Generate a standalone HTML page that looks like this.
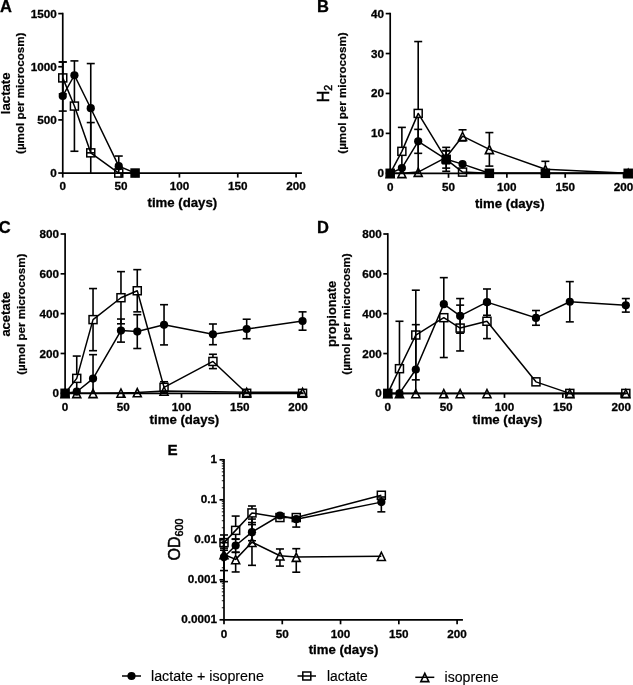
<!DOCTYPE html>
<html lang="en"><head><meta charset="utf-8"><title>Figure: lactate, H2, acetate, propionate and OD600 over time</title>
<style>html,body{margin:0;padding:0;background:#fff}svg{display:block}text{font-family:"Liberation Sans",sans-serif;fill:#000}</style>
</head><body>
<svg width="633" height="685" viewBox="0 0 633 685">
<rect width="633" height="685" fill="#fff"/>
<g id="panelA">
<text transform="translate(0 11.8)" font-size="16.5" font-weight="bold" text-anchor="start" stroke="#000" stroke-width="0.3" >A</text>
<line x1="62.75" y1="12.75" x2="62.75" y2="173.9" stroke="#000" stroke-width="1.7" />
<line x1="61.9" y1="173.05" x2="301.92" y2="173.05" stroke="#000" stroke-width="1.7" />
<line x1="58.25" y1="173.05" x2="62.75" y2="173.05" stroke="#000" stroke-width="1.7" />
<text transform="translate(56.65 177.09)" font-size="11.7" font-weight="bold" text-anchor="end" stroke="#000" stroke-width="0.3" >0</text>
<line x1="58.25" y1="119.9" x2="62.75" y2="119.9" stroke="#000" stroke-width="1.7" />
<text transform="translate(56.65 123.94)" font-size="11.7" font-weight="bold" text-anchor="end" stroke="#000" stroke-width="0.3" >500</text>
<line x1="58.25" y1="66.75" x2="62.75" y2="66.75" stroke="#000" stroke-width="1.7" />
<text transform="translate(56.65 70.79)" font-size="11.7" font-weight="bold" text-anchor="end" stroke="#000" stroke-width="0.3" >1000</text>
<line x1="58.25" y1="13.6" x2="62.75" y2="13.6" stroke="#000" stroke-width="1.7" />
<text transform="translate(56.65 17.64)" font-size="11.7" font-weight="bold" text-anchor="end" stroke="#000" stroke-width="0.3" >1500</text>
<line x1="62.75" y1="173.05" x2="62.75" y2="177.55" stroke="#000" stroke-width="1.7" />
<text transform="translate(62.75 190.35)" font-size="11.7" font-weight="bold" text-anchor="middle" stroke="#000" stroke-width="0.3" >0</text>
<line x1="121.09" y1="173.05" x2="121.09" y2="177.55" stroke="#000" stroke-width="1.7" />
<text transform="translate(121.09 190.35)" font-size="11.7" font-weight="bold" text-anchor="middle" stroke="#000" stroke-width="0.3" >50</text>
<line x1="179.42" y1="173.05" x2="179.42" y2="177.55" stroke="#000" stroke-width="1.7" />
<text transform="translate(179.42 190.35)" font-size="11.7" font-weight="bold" text-anchor="middle" stroke="#000" stroke-width="0.3" >100</text>
<line x1="237.76" y1="173.05" x2="237.76" y2="177.55" stroke="#000" stroke-width="1.7" />
<text transform="translate(237.76 190.35)" font-size="11.7" font-weight="bold" text-anchor="middle" stroke="#000" stroke-width="0.3" >150</text>
<line x1="296.09" y1="173.05" x2="296.09" y2="177.55" stroke="#000" stroke-width="1.7" />
<text transform="translate(296.09 190.35)" font-size="11.7" font-weight="bold" text-anchor="middle" stroke="#000" stroke-width="0.3" >200</text>
<text transform="translate(182.34 207.35)" font-size="13.2" font-weight="bold" text-anchor="middle" stroke="#000" stroke-width="0.3" >time (days)</text>
<text transform="translate(9.8 93.3) rotate(-90)" font-size="13.2" font-weight="bold" text-anchor="middle" stroke="#000" stroke-width="0.2" >lactate</text>
<text transform="translate(23.9 93.3) rotate(-90)" font-size="11.6" font-weight="bold" text-anchor="middle" stroke="#000" stroke-width="0.2" >(µmol per microcosm)</text>
<line x1="62.75" y1="61.97" x2="62.75" y2="95.98" stroke="#000" stroke-width="1.6" />
<line x1="58.75" y1="61.97" x2="66.75" y2="61.97" stroke="#000" stroke-width="1.6" />
<line x1="62.75" y1="95.98" x2="62.75" y2="111.08" stroke="#000" stroke-width="1.6" />
<line x1="58.75" y1="111.08" x2="66.75" y2="111.08" stroke="#000" stroke-width="1.6" />
<line x1="90.75" y1="63.56" x2="90.75" y2="108.21" stroke="#000" stroke-width="1.6" />
<line x1="86.75" y1="63.56" x2="94.75" y2="63.56" stroke="#000" stroke-width="1.6" />
<line x1="90.75" y1="108.21" x2="90.75" y2="152.85" stroke="#000" stroke-width="1.6" />
<line x1="86.75" y1="152.85" x2="94.75" y2="152.85" stroke="#000" stroke-width="1.6" />
<line x1="118.75" y1="156.04" x2="118.75" y2="166.14" stroke="#000" stroke-width="1.6" />
<line x1="114.75" y1="156.04" x2="122.75" y2="156.04" stroke="#000" stroke-width="1.6" />
<line x1="118.75" y1="166.14" x2="118.75" y2="173.05" stroke="#000" stroke-width="1.6" />
<polyline points="62.75,95.98 74.42,75.25 90.75,108.21 118.75,166.14 135.09,173.05" fill="none" stroke="#000" stroke-width="1.5" stroke-linejoin="round"/>
<circle cx="62.75" cy="95.98" r="4.1" fill="#000"/>
<circle cx="74.42" cy="75.25" r="4.1" fill="#000"/>
<circle cx="90.75" cy="108.21" r="4.1" fill="#000"/>
<circle cx="118.75" cy="166.14" r="4.1" fill="#000"/>
<circle cx="135.09" cy="173.05" r="4.1" fill="#000"/>
<line x1="62.75" y1="61.97" x2="62.75" y2="73.91" stroke="#000" stroke-width="1.6" />
<line x1="58.75" y1="61.97" x2="66.75" y2="61.97" stroke="#000" stroke-width="1.6" />
<line x1="62.75" y1="81.91" x2="62.75" y2="93.86" stroke="#000" stroke-width="1.6" />
<line x1="58.75" y1="93.86" x2="66.75" y2="93.86" stroke="#000" stroke-width="1.6" />
<line x1="74.42" y1="60.9" x2="74.42" y2="102.08" stroke="#000" stroke-width="1.6" />
<line x1="70.42" y1="60.9" x2="78.42" y2="60.9" stroke="#000" stroke-width="1.6" />
<line x1="74.42" y1="110.08" x2="74.42" y2="151.26" stroke="#000" stroke-width="1.6" />
<line x1="70.42" y1="151.26" x2="78.42" y2="151.26" stroke="#000" stroke-width="1.6" />
<line x1="90.75" y1="122.56" x2="90.75" y2="148.85" stroke="#000" stroke-width="1.6" />
<line x1="86.75" y1="122.56" x2="94.75" y2="122.56" stroke="#000" stroke-width="1.6" />
<line x1="90.75" y1="156.85" x2="90.75" y2="173.05" stroke="#000" stroke-width="1.6" />
<polyline points="62.75,77.91 74.42,106.08 90.75,152.85 118.75,173.05 135.09,173.05" fill="none" stroke="#000" stroke-width="1.5" stroke-linejoin="round"/>
<rect x="58.75" y="73.91" width="8" height="8" fill="none" stroke="#000" stroke-width="1.5"/>
<rect x="70.42" y="102.08" width="8" height="8" fill="none" stroke="#000" stroke-width="1.5"/>
<rect x="86.75" y="148.85" width="8" height="8" fill="none" stroke="#000" stroke-width="1.5"/>
<rect x="114.75" y="169.05" width="8" height="8" fill="none" stroke="#000" stroke-width="1.5"/>
<rect x="131.09" y="169.05" width="8" height="8" fill="#000" stroke="#000" stroke-width="1.5"/>
</g>
<g id="panelB">
<text transform="translate(317.1 11.7)" font-size="16.5" font-weight="bold" text-anchor="start" stroke="#000" stroke-width="0.3" >B</text>
<line x1="390.2" y1="12.75" x2="390.2" y2="174.15" stroke="#000" stroke-width="1.7" />
<line x1="389.35" y1="173.3" x2="629.37" y2="173.3" stroke="#000" stroke-width="1.7" />
<line x1="385.7" y1="173.3" x2="390.2" y2="173.3" stroke="#000" stroke-width="1.7" />
<text transform="translate(384.1 177.34)" font-size="11.7" font-weight="bold" text-anchor="end" stroke="#000" stroke-width="0.3" >0</text>
<line x1="385.7" y1="133.38" x2="390.2" y2="133.38" stroke="#000" stroke-width="1.7" />
<text transform="translate(384.1 137.41)" font-size="11.7" font-weight="bold" text-anchor="end" stroke="#000" stroke-width="0.3" >10</text>
<line x1="385.7" y1="93.45" x2="390.2" y2="93.45" stroke="#000" stroke-width="1.7" />
<text transform="translate(384.1 97.49)" font-size="11.7" font-weight="bold" text-anchor="end" stroke="#000" stroke-width="0.3" >20</text>
<line x1="385.7" y1="53.53" x2="390.2" y2="53.53" stroke="#000" stroke-width="1.7" />
<text transform="translate(384.1 57.56)" font-size="11.7" font-weight="bold" text-anchor="end" stroke="#000" stroke-width="0.3" >30</text>
<line x1="385.7" y1="13.6" x2="390.2" y2="13.6" stroke="#000" stroke-width="1.7" />
<text transform="translate(384.1 17.64)" font-size="11.7" font-weight="bold" text-anchor="end" stroke="#000" stroke-width="0.3" >40</text>
<line x1="390.2" y1="173.3" x2="390.2" y2="177.8" stroke="#000" stroke-width="1.7" />
<text transform="translate(390.2 190.9)" font-size="11.7" font-weight="bold" text-anchor="middle" stroke="#000" stroke-width="0.3" >0</text>
<line x1="448.53" y1="173.3" x2="448.53" y2="177.8" stroke="#000" stroke-width="1.7" />
<text transform="translate(448.53 190.9)" font-size="11.7" font-weight="bold" text-anchor="middle" stroke="#000" stroke-width="0.3" >50</text>
<line x1="506.87" y1="173.3" x2="506.87" y2="177.8" stroke="#000" stroke-width="1.7" />
<text transform="translate(506.87 190.9)" font-size="11.7" font-weight="bold" text-anchor="middle" stroke="#000" stroke-width="0.3" >100</text>
<line x1="565.21" y1="173.3" x2="565.21" y2="177.8" stroke="#000" stroke-width="1.7" />
<text transform="translate(565.21 190.9)" font-size="11.7" font-weight="bold" text-anchor="middle" stroke="#000" stroke-width="0.3" >150</text>
<line x1="623.54" y1="173.3" x2="623.54" y2="177.8" stroke="#000" stroke-width="1.7" />
<text transform="translate(623.54 190.9)" font-size="11.7" font-weight="bold" text-anchor="middle" stroke="#000" stroke-width="0.3" >200</text>
<text transform="translate(509.79 207.7)" font-size="13.2" font-weight="bold" text-anchor="middle" stroke="#000" stroke-width="0.3" >time (days)</text>
<text transform="translate(328.6 93.5) rotate(-90)" font-size="16" font-weight="normal" stroke="#000" stroke-width="0.5" text-anchor="middle">H<tspan font-size="10.5" dy="3.6">2</tspan></text>
<text transform="translate(346.3 93) rotate(-90)" font-size="11.6" font-weight="bold" text-anchor="middle" stroke="#000" stroke-width="0.2" >(µmol per microcosm)</text>
<line x1="418.2" y1="129.38" x2="418.2" y2="141.36" stroke="#000" stroke-width="1.6" />
<line x1="414.2" y1="129.38" x2="422.2" y2="129.38" stroke="#000" stroke-width="1.6" />
<line x1="418.2" y1="141.36" x2="418.2" y2="153.34" stroke="#000" stroke-width="1.6" />
<line x1="414.2" y1="153.34" x2="422.2" y2="153.34" stroke="#000" stroke-width="1.6" />
<line x1="446.2" y1="150.54" x2="446.2" y2="159.33" stroke="#000" stroke-width="1.6" />
<line x1="442.2" y1="150.54" x2="450.2" y2="150.54" stroke="#000" stroke-width="1.6" />
<line x1="446.2" y1="159.33" x2="446.2" y2="168.11" stroke="#000" stroke-width="1.6" />
<line x1="442.2" y1="168.11" x2="450.2" y2="168.11" stroke="#000" stroke-width="1.6" />
<polyline points="390.2,173.3 401.87,168.11 418.2,141.36 446.2,159.33 462.54,164.12 489.37,173.3 545.37,173.3 628.21,173.3" fill="none" stroke="#000" stroke-width="1.5" stroke-linejoin="round"/>
<circle cx="390.2" cy="173.3" r="4.1" fill="#000"/>
<circle cx="401.87" cy="168.11" r="4.1" fill="#000"/>
<circle cx="418.2" cy="141.36" r="4.1" fill="#000"/>
<circle cx="446.2" cy="159.33" r="4.1" fill="#000"/>
<circle cx="462.54" cy="164.12" r="4.1" fill="#000"/>
<circle cx="489.37" cy="173.3" r="4.1" fill="#000"/>
<circle cx="545.37" cy="173.3" r="4.1" fill="#000"/>
<circle cx="628.21" cy="173.3" r="4.1" fill="#000"/>
<line x1="401.87" y1="127.39" x2="401.87" y2="147.34" stroke="#000" stroke-width="1.6" />
<line x1="397.87" y1="127.39" x2="405.87" y2="127.39" stroke="#000" stroke-width="1.6" />
<line x1="401.87" y1="155.34" x2="401.87" y2="173.3" stroke="#000" stroke-width="1.6" />
<line x1="418.2" y1="41.55" x2="418.2" y2="109.41" stroke="#000" stroke-width="1.6" />
<line x1="414.2" y1="41.55" x2="422.2" y2="41.55" stroke="#000" stroke-width="1.6" />
<line x1="418.2" y1="117.41" x2="418.2" y2="173.3" stroke="#000" stroke-width="1.6" />
<line x1="446.2" y1="147.35" x2="446.2" y2="155.33" stroke="#000" stroke-width="1.6" />
<line x1="442.2" y1="147.35" x2="450.2" y2="147.35" stroke="#000" stroke-width="1.6" />
<line x1="446.2" y1="163.33" x2="446.2" y2="171.3" stroke="#000" stroke-width="1.6" />
<line x1="442.2" y1="171.3" x2="450.2" y2="171.3" stroke="#000" stroke-width="1.6" />
<polyline points="390.2,173.3 401.87,151.34 418.2,113.41 446.2,159.33 462.54,172.1 489.37,173.3 545.37,173.3 628.21,173.3" fill="none" stroke="#000" stroke-width="1.5" stroke-linejoin="round"/>
<rect x="386.2" y="169.3" width="8" height="8" fill="#000" stroke="#000" stroke-width="1.5"/>
<rect x="397.87" y="147.34" width="8" height="8" fill="none" stroke="#000" stroke-width="1.5"/>
<rect x="414.2" y="109.41" width="8" height="8" fill="none" stroke="#000" stroke-width="1.5"/>
<rect x="442.2" y="155.33" width="8" height="8" fill="#000" stroke="#000" stroke-width="1.5"/>
<rect x="458.54" y="168.1" width="8" height="8" fill="none" stroke="#000" stroke-width="1.5"/>
<rect x="485.37" y="169.3" width="8" height="8" fill="#000" stroke="#000" stroke-width="1.5"/>
<rect x="541.37" y="169.3" width="8" height="8" fill="#000" stroke="#000" stroke-width="1.5"/>
<rect x="624.21" y="169.3" width="8" height="8" fill="#000" stroke="#000" stroke-width="1.5"/>
<line x1="446.2" y1="150.94" x2="446.2" y2="152.63" stroke="#000" stroke-width="1.6" />
<line x1="442.2" y1="150.94" x2="450.2" y2="150.94" stroke="#000" stroke-width="1.6" />
<line x1="446.2" y1="161.63" x2="446.2" y2="163.72" stroke="#000" stroke-width="1.6" />
<line x1="442.2" y1="163.72" x2="450.2" y2="163.72" stroke="#000" stroke-width="1.6" />
<line x1="462.54" y1="129.78" x2="462.54" y2="131.47" stroke="#000" stroke-width="1.6" />
<line x1="458.54" y1="129.78" x2="466.54" y2="129.78" stroke="#000" stroke-width="1.6" />
<line x1="462.54" y1="140.47" x2="462.54" y2="140.96" stroke="#000" stroke-width="1.6" />
<line x1="458.54" y1="140.96" x2="466.54" y2="140.96" stroke="#000" stroke-width="1.6" />
<line x1="489.37" y1="132.58" x2="489.37" y2="144.65" stroke="#000" stroke-width="1.6" />
<line x1="485.37" y1="132.58" x2="493.37" y2="132.58" stroke="#000" stroke-width="1.6" />
<line x1="489.37" y1="153.65" x2="489.37" y2="166.11" stroke="#000" stroke-width="1.6" />
<line x1="485.37" y1="166.11" x2="493.37" y2="166.11" stroke="#000" stroke-width="1.6" />
<line x1="545.37" y1="161.32" x2="545.37" y2="164.61" stroke="#000" stroke-width="1.6" />
<line x1="541.37" y1="161.32" x2="549.37" y2="161.32" stroke="#000" stroke-width="1.6" />
<polyline points="390.2,173.3 401.87,173.3 418.2,172.1 446.2,157.33 462.54,136.17 489.37,149.34 545.37,169.31 628.21,173.3" fill="none" stroke="#000" stroke-width="1.5" stroke-linejoin="round"/>
<path d="M390.2 169.4 L394.2 177.6 L386.2 177.6 Z" fill="none" stroke="#000" stroke-width="1.6" stroke-linejoin="miter"/>
<path d="M401.87 169.4 L405.87 177.6 L397.87 177.6 Z" fill="none" stroke="#000" stroke-width="1.6" stroke-linejoin="miter"/>
<path d="M418.2 168.2 L422.2 176.4 L414.2 176.4 Z" fill="none" stroke="#000" stroke-width="1.6" stroke-linejoin="miter"/>
<path d="M446.2 153.43 L450.2 161.63 L442.2 161.63 Z" fill="none" stroke="#000" stroke-width="1.6" stroke-linejoin="miter"/>
<path d="M462.54 132.27 L466.54 140.47 L458.54 140.47 Z" fill="none" stroke="#000" stroke-width="1.6" stroke-linejoin="miter"/>
<path d="M489.37 145.44 L493.37 153.65 L485.37 153.65 Z" fill="none" stroke="#000" stroke-width="1.6" stroke-linejoin="miter"/>
<path d="M545.37 165.41 L549.37 173.61 L541.37 173.61 Z" fill="none" stroke="#000" stroke-width="1.6" stroke-linejoin="miter"/>
<path d="M628.21 169.4 L632.21 177.6 L624.21 177.6 Z" fill="none" stroke="#000" stroke-width="1.6" stroke-linejoin="miter"/>
</g>
<g id="panelC">
<text transform="translate(-1.2 232.5)" font-size="16.5" font-weight="bold" text-anchor="start" stroke="#000" stroke-width="0.3" >C</text>
<line x1="65.1" y1="233.15" x2="65.1" y2="394.15" stroke="#000" stroke-width="1.7" />
<line x1="64.25" y1="393.3" x2="303.72" y2="393.3" stroke="#000" stroke-width="1.7" />
<line x1="60.6" y1="393.3" x2="65.1" y2="393.3" stroke="#000" stroke-width="1.7" />
<text transform="translate(59 397.34)" font-size="11.7" font-weight="bold" text-anchor="end" stroke="#000" stroke-width="0.3" >0</text>
<line x1="60.6" y1="353.48" x2="65.1" y2="353.48" stroke="#000" stroke-width="1.7" />
<text transform="translate(59 357.51)" font-size="11.7" font-weight="bold" text-anchor="end" stroke="#000" stroke-width="0.3" >200</text>
<line x1="60.6" y1="313.65" x2="65.1" y2="313.65" stroke="#000" stroke-width="1.7" />
<text transform="translate(59 317.69)" font-size="11.7" font-weight="bold" text-anchor="end" stroke="#000" stroke-width="0.3" >400</text>
<line x1="60.6" y1="273.82" x2="65.1" y2="273.82" stroke="#000" stroke-width="1.7" />
<text transform="translate(59 277.86)" font-size="11.7" font-weight="bold" text-anchor="end" stroke="#000" stroke-width="0.3" >600</text>
<line x1="60.6" y1="234" x2="65.1" y2="234" stroke="#000" stroke-width="1.7" />
<text transform="translate(59 238.04)" font-size="11.7" font-weight="bold" text-anchor="end" stroke="#000" stroke-width="0.3" >800</text>
<line x1="65.1" y1="393.3" x2="65.1" y2="397.8" stroke="#000" stroke-width="1.7" />
<text transform="translate(65.1 411)" font-size="11.7" font-weight="bold" text-anchor="middle" stroke="#000" stroke-width="0.3" >0</text>
<line x1="123.3" y1="393.3" x2="123.3" y2="397.8" stroke="#000" stroke-width="1.7" />
<text transform="translate(123.3 411)" font-size="11.7" font-weight="bold" text-anchor="middle" stroke="#000" stroke-width="0.3" >50</text>
<line x1="181.5" y1="393.3" x2="181.5" y2="397.8" stroke="#000" stroke-width="1.7" />
<text transform="translate(181.5 411)" font-size="11.7" font-weight="bold" text-anchor="middle" stroke="#000" stroke-width="0.3" >100</text>
<line x1="239.7" y1="393.3" x2="239.7" y2="397.8" stroke="#000" stroke-width="1.7" />
<text transform="translate(239.7 411)" font-size="11.7" font-weight="bold" text-anchor="middle" stroke="#000" stroke-width="0.3" >150</text>
<line x1="297.9" y1="393.3" x2="297.9" y2="397.8" stroke="#000" stroke-width="1.7" />
<text transform="translate(297.9 411)" font-size="11.7" font-weight="bold" text-anchor="middle" stroke="#000" stroke-width="0.3" >200</text>
<text transform="translate(184.41 423.7)" font-size="13.2" font-weight="bold" text-anchor="middle" stroke="#000" stroke-width="0.3" >time (days)</text>
<text transform="translate(10.1 314.2) rotate(-90)" font-size="13.0" font-weight="bold" text-anchor="middle" stroke="#000" stroke-width="0.2" >acetate</text>
<text transform="translate(24.5 314.2) rotate(-90)" font-size="11.6" font-weight="bold" text-anchor="middle" stroke="#000" stroke-width="0.2" >(µmol per microcosm)</text>
<line x1="93.04" y1="354.67" x2="93.04" y2="378.56" stroke="#000" stroke-width="1.6" />
<line x1="89.04" y1="354.67" x2="97.04" y2="354.67" stroke="#000" stroke-width="1.6" />
<line x1="93.04" y1="378.56" x2="93.04" y2="393.3" stroke="#000" stroke-width="1.6" />
<line x1="120.97" y1="319.03" x2="120.97" y2="330.58" stroke="#000" stroke-width="1.6" />
<line x1="116.97" y1="319.03" x2="124.97" y2="319.03" stroke="#000" stroke-width="1.6" />
<line x1="120.97" y1="330.58" x2="120.97" y2="342.12" stroke="#000" stroke-width="1.6" />
<line x1="116.97" y1="342.12" x2="124.97" y2="342.12" stroke="#000" stroke-width="1.6" />
<line x1="137.27" y1="314.65" x2="137.27" y2="331.57" stroke="#000" stroke-width="1.6" />
<line x1="133.27" y1="314.65" x2="141.27" y2="314.65" stroke="#000" stroke-width="1.6" />
<line x1="137.27" y1="331.57" x2="137.27" y2="348.5" stroke="#000" stroke-width="1.6" />
<line x1="133.27" y1="348.5" x2="141.27" y2="348.5" stroke="#000" stroke-width="1.6" />
<line x1="164.04" y1="304.69" x2="164.04" y2="324.8" stroke="#000" stroke-width="1.6" />
<line x1="160.04" y1="304.69" x2="168.04" y2="304.69" stroke="#000" stroke-width="1.6" />
<line x1="164.04" y1="324.8" x2="164.04" y2="344.91" stroke="#000" stroke-width="1.6" />
<line x1="160.04" y1="344.91" x2="168.04" y2="344.91" stroke="#000" stroke-width="1.6" />
<line x1="212.93" y1="324" x2="212.93" y2="334.36" stroke="#000" stroke-width="1.6" />
<line x1="208.93" y1="324" x2="216.93" y2="324" stroke="#000" stroke-width="1.6" />
<line x1="212.93" y1="334.36" x2="212.93" y2="344.71" stroke="#000" stroke-width="1.6" />
<line x1="208.93" y1="344.71" x2="216.93" y2="344.71" stroke="#000" stroke-width="1.6" />
<line x1="246.68" y1="319.23" x2="246.68" y2="328.98" stroke="#000" stroke-width="1.6" />
<line x1="242.68" y1="319.23" x2="250.68" y2="319.23" stroke="#000" stroke-width="1.6" />
<line x1="246.68" y1="328.98" x2="246.68" y2="338.74" stroke="#000" stroke-width="1.6" />
<line x1="242.68" y1="338.74" x2="250.68" y2="338.74" stroke="#000" stroke-width="1.6" />
<line x1="302.56" y1="311.86" x2="302.56" y2="321.02" stroke="#000" stroke-width="1.6" />
<line x1="298.56" y1="311.86" x2="306.56" y2="311.86" stroke="#000" stroke-width="1.6" />
<line x1="302.56" y1="321.02" x2="302.56" y2="330.18" stroke="#000" stroke-width="1.6" />
<line x1="298.56" y1="330.18" x2="306.56" y2="330.18" stroke="#000" stroke-width="1.6" />
<polyline points="65.1,393.3 76.74,391.71 93.04,378.56 120.97,330.58 137.27,331.57 164.04,324.8 212.93,334.36 246.68,328.98 302.56,321.02" fill="none" stroke="#000" stroke-width="1.5" stroke-linejoin="round"/>
<circle cx="65.1" cy="393.3" r="4.1" fill="#000"/>
<circle cx="76.74" cy="391.71" r="4.1" fill="#000"/>
<circle cx="93.04" cy="378.56" r="4.1" fill="#000"/>
<circle cx="120.97" cy="330.58" r="4.1" fill="#000"/>
<circle cx="137.27" cy="331.57" r="4.1" fill="#000"/>
<circle cx="164.04" cy="324.8" r="4.1" fill="#000"/>
<circle cx="212.93" cy="334.36" r="4.1" fill="#000"/>
<circle cx="246.68" cy="328.98" r="4.1" fill="#000"/>
<circle cx="302.56" cy="321.02" r="4.1" fill="#000"/>
<line x1="76.74" y1="356.06" x2="76.74" y2="374.37" stroke="#000" stroke-width="1.6" />
<line x1="72.74" y1="356.06" x2="80.74" y2="356.06" stroke="#000" stroke-width="1.6" />
<line x1="76.74" y1="382.37" x2="76.74" y2="393.3" stroke="#000" stroke-width="1.6" />
<line x1="93.04" y1="288.56" x2="93.04" y2="315.62" stroke="#000" stroke-width="1.6" />
<line x1="89.04" y1="288.56" x2="97.04" y2="288.56" stroke="#000" stroke-width="1.6" />
<line x1="93.04" y1="323.62" x2="93.04" y2="350.69" stroke="#000" stroke-width="1.6" />
<line x1="89.04" y1="350.69" x2="97.04" y2="350.69" stroke="#000" stroke-width="1.6" />
<line x1="120.97" y1="271.63" x2="120.97" y2="293.72" stroke="#000" stroke-width="1.6" />
<line x1="116.97" y1="271.63" x2="124.97" y2="271.63" stroke="#000" stroke-width="1.6" />
<line x1="120.97" y1="301.72" x2="120.97" y2="323.81" stroke="#000" stroke-width="1.6" />
<line x1="116.97" y1="323.81" x2="124.97" y2="323.81" stroke="#000" stroke-width="1.6" />
<line x1="137.27" y1="269.64" x2="137.27" y2="286.75" stroke="#000" stroke-width="1.6" />
<line x1="133.27" y1="269.64" x2="141.27" y2="269.64" stroke="#000" stroke-width="1.6" />
<line x1="137.27" y1="294.75" x2="137.27" y2="311.86" stroke="#000" stroke-width="1.6" />
<line x1="133.27" y1="311.86" x2="141.27" y2="311.86" stroke="#000" stroke-width="1.6" />
<line x1="164.04" y1="381.75" x2="164.04" y2="383.33" stroke="#000" stroke-width="1.6" />
<line x1="160.04" y1="381.75" x2="168.04" y2="381.75" stroke="#000" stroke-width="1.6" />
<line x1="164.04" y1="391.33" x2="164.04" y2="392.9" stroke="#000" stroke-width="1.6" />
<line x1="160.04" y1="392.9" x2="168.04" y2="392.9" stroke="#000" stroke-width="1.6" />
<line x1="212.93" y1="354.27" x2="212.93" y2="357.44" stroke="#000" stroke-width="1.6" />
<line x1="208.93" y1="354.27" x2="216.93" y2="354.27" stroke="#000" stroke-width="1.6" />
<line x1="212.93" y1="365.44" x2="212.93" y2="368.61" stroke="#000" stroke-width="1.6" />
<line x1="208.93" y1="368.61" x2="216.93" y2="368.61" stroke="#000" stroke-width="1.6" />
<polyline points="65.1,393.3 76.74,378.37 93.04,319.62 120.97,297.72 137.27,290.75 164.04,387.33 212.93,361.44 246.68,393.3 302.56,393.3" fill="none" stroke="#000" stroke-width="1.5" stroke-linejoin="round"/>
<rect x="61.1" y="389.3" width="8" height="8" fill="#000" stroke="#000" stroke-width="1.5"/>
<rect x="72.74" y="374.37" width="8" height="8" fill="none" stroke="#000" stroke-width="1.5"/>
<rect x="89.04" y="315.62" width="8" height="8" fill="none" stroke="#000" stroke-width="1.5"/>
<rect x="116.97" y="293.72" width="8" height="8" fill="none" stroke="#000" stroke-width="1.5"/>
<rect x="133.27" y="286.75" width="8" height="8" fill="none" stroke="#000" stroke-width="1.5"/>
<rect x="160.04" y="383.33" width="8" height="8" fill="none" stroke="#000" stroke-width="1.5"/>
<rect x="208.93" y="357.44" width="8" height="8" fill="none" stroke="#000" stroke-width="1.5"/>
<rect x="242.68" y="389.3" width="8" height="8" fill="none" stroke="#000" stroke-width="1.5"/>
<rect x="298.56" y="389.3" width="8" height="8" fill="none" stroke="#000" stroke-width="1.5"/>
<polyline points="65.1,393.3 76.74,393.3 93.04,393.3 120.97,392.9 137.27,392.5 164.04,390.91 246.68,392.3 302.56,392.3" fill="none" stroke="#000" stroke-width="1.5" stroke-linejoin="round"/>
<path d="M65.1 389.4 L69.1 397.6 L61.1 397.6 Z" fill="none" stroke="#000" stroke-width="1.6" stroke-linejoin="miter"/>
<path d="M76.74 389.4 L80.74 397.6 L72.74 397.6 Z" fill="none" stroke="#000" stroke-width="1.6" stroke-linejoin="miter"/>
<path d="M93.04 389.4 L97.04 397.6 L89.04 397.6 Z" fill="none" stroke="#000" stroke-width="1.6" stroke-linejoin="miter"/>
<path d="M120.97 389 L124.97 397.2 L116.97 397.2 Z" fill="none" stroke="#000" stroke-width="1.6" stroke-linejoin="miter"/>
<path d="M137.27 388.6 L141.27 396.8 L133.27 396.8 Z" fill="none" stroke="#000" stroke-width="1.6" stroke-linejoin="miter"/>
<path d="M164.04 387.01 L168.04 395.21 L160.04 395.21 Z" fill="none" stroke="#000" stroke-width="1.6" stroke-linejoin="miter"/>
<path d="M246.68 388.4 L250.68 396.6 L242.68 396.6 Z" fill="none" stroke="#000" stroke-width="1.6" stroke-linejoin="miter"/>
<path d="M302.56 388.4 L306.56 396.6 L298.56 396.6 Z" fill="none" stroke="#000" stroke-width="1.6" stroke-linejoin="miter"/>
</g>
<g id="panelD">
<text transform="translate(317.1 232.5)" font-size="16.5" font-weight="bold" text-anchor="start" stroke="#000" stroke-width="0.3" >D</text>
<line x1="387.8" y1="233.15" x2="387.8" y2="394.25" stroke="#000" stroke-width="1.7" />
<line x1="386.95" y1="393.4" x2="626.97" y2="393.4" stroke="#000" stroke-width="1.7" />
<line x1="383.3" y1="393.4" x2="387.8" y2="393.4" stroke="#000" stroke-width="1.7" />
<text transform="translate(381.7 397.44)" font-size="11.7" font-weight="bold" text-anchor="end" stroke="#000" stroke-width="0.3" >0</text>
<line x1="383.3" y1="353.55" x2="387.8" y2="353.55" stroke="#000" stroke-width="1.7" />
<text transform="translate(381.7 357.59)" font-size="11.7" font-weight="bold" text-anchor="end" stroke="#000" stroke-width="0.3" >200</text>
<line x1="383.3" y1="313.7" x2="387.8" y2="313.7" stroke="#000" stroke-width="1.7" />
<text transform="translate(381.7 317.74)" font-size="11.7" font-weight="bold" text-anchor="end" stroke="#000" stroke-width="0.3" >400</text>
<line x1="383.3" y1="273.85" x2="387.8" y2="273.85" stroke="#000" stroke-width="1.7" />
<text transform="translate(381.7 277.89)" font-size="11.7" font-weight="bold" text-anchor="end" stroke="#000" stroke-width="0.3" >600</text>
<line x1="383.3" y1="234" x2="387.8" y2="234" stroke="#000" stroke-width="1.7" />
<text transform="translate(381.7 238.04)" font-size="11.7" font-weight="bold" text-anchor="end" stroke="#000" stroke-width="0.3" >800</text>
<line x1="387.8" y1="393.4" x2="387.8" y2="397.9" stroke="#000" stroke-width="1.7" />
<text transform="translate(387.8 411)" font-size="11.7" font-weight="bold" text-anchor="middle" stroke="#000" stroke-width="0.3" >0</text>
<line x1="446.13" y1="393.4" x2="446.13" y2="397.9" stroke="#000" stroke-width="1.7" />
<text transform="translate(446.13 411)" font-size="11.7" font-weight="bold" text-anchor="middle" stroke="#000" stroke-width="0.3" >50</text>
<line x1="504.47" y1="393.4" x2="504.47" y2="397.9" stroke="#000" stroke-width="1.7" />
<text transform="translate(504.47 411)" font-size="11.7" font-weight="bold" text-anchor="middle" stroke="#000" stroke-width="0.3" >100</text>
<line x1="562.81" y1="393.4" x2="562.81" y2="397.9" stroke="#000" stroke-width="1.7" />
<text transform="translate(562.81 411)" font-size="11.7" font-weight="bold" text-anchor="middle" stroke="#000" stroke-width="0.3" >150</text>
<line x1="621.14" y1="393.4" x2="621.14" y2="397.9" stroke="#000" stroke-width="1.7" />
<text transform="translate(621.14 411)" font-size="11.7" font-weight="bold" text-anchor="middle" stroke="#000" stroke-width="0.3" >200</text>
<text transform="translate(507.39 423.8)" font-size="13.2" font-weight="bold" text-anchor="middle" stroke="#000" stroke-width="0.3" >time (days)</text>
<text transform="translate(335.7 314) rotate(-90)" font-size="12.8" font-weight="bold" text-anchor="middle" stroke="#000" stroke-width="0.2" >propionate</text>
<text transform="translate(349.9 314) rotate(-90)" font-size="11.6" font-weight="bold" text-anchor="middle" stroke="#000" stroke-width="0.2" >(µmol per microcosm)</text>
<line x1="415.8" y1="324.66" x2="415.8" y2="369.49" stroke="#000" stroke-width="1.6" />
<line x1="411.8" y1="324.66" x2="419.8" y2="324.66" stroke="#000" stroke-width="1.6" />
<line x1="415.8" y1="369.49" x2="415.8" y2="393.4" stroke="#000" stroke-width="1.6" />
<line x1="443.8" y1="277.64" x2="443.8" y2="304.14" stroke="#000" stroke-width="1.6" />
<line x1="439.8" y1="277.64" x2="447.8" y2="277.64" stroke="#000" stroke-width="1.6" />
<line x1="460.14" y1="298.56" x2="460.14" y2="315.89" stroke="#000" stroke-width="1.6" />
<line x1="456.14" y1="298.56" x2="464.14" y2="298.56" stroke="#000" stroke-width="1.6" />
<line x1="460.14" y1="315.89" x2="460.14" y2="333.23" stroke="#000" stroke-width="1.6" />
<line x1="456.14" y1="333.23" x2="464.14" y2="333.23" stroke="#000" stroke-width="1.6" />
<line x1="486.97" y1="288.99" x2="486.97" y2="302.14" stroke="#000" stroke-width="1.6" />
<line x1="482.97" y1="288.99" x2="490.97" y2="288.99" stroke="#000" stroke-width="1.6" />
<line x1="486.97" y1="302.14" x2="486.97" y2="315.29" stroke="#000" stroke-width="1.6" />
<line x1="482.97" y1="315.29" x2="490.97" y2="315.29" stroke="#000" stroke-width="1.6" />
<line x1="535.97" y1="310.51" x2="535.97" y2="317.88" stroke="#000" stroke-width="1.6" />
<line x1="531.97" y1="310.51" x2="539.97" y2="310.51" stroke="#000" stroke-width="1.6" />
<line x1="535.97" y1="317.88" x2="535.97" y2="325.26" stroke="#000" stroke-width="1.6" />
<line x1="531.97" y1="325.26" x2="539.97" y2="325.26" stroke="#000" stroke-width="1.6" />
<line x1="569.81" y1="281.62" x2="569.81" y2="301.75" stroke="#000" stroke-width="1.6" />
<line x1="565.81" y1="281.62" x2="573.81" y2="281.62" stroke="#000" stroke-width="1.6" />
<line x1="569.81" y1="301.75" x2="569.81" y2="321.87" stroke="#000" stroke-width="1.6" />
<line x1="565.81" y1="321.87" x2="573.81" y2="321.87" stroke="#000" stroke-width="1.6" />
<line x1="625.81" y1="298.56" x2="625.81" y2="305.33" stroke="#000" stroke-width="1.6" />
<line x1="621.81" y1="298.56" x2="629.81" y2="298.56" stroke="#000" stroke-width="1.6" />
<line x1="625.81" y1="305.33" x2="625.81" y2="312.11" stroke="#000" stroke-width="1.6" />
<line x1="621.81" y1="312.11" x2="629.81" y2="312.11" stroke="#000" stroke-width="1.6" />
<polyline points="387.8,393.4 399.47,393.4 415.8,369.49 443.8,304.14 460.14,315.89 486.97,302.14 535.97,317.88 569.81,301.75 625.81,305.33" fill="none" stroke="#000" stroke-width="1.5" stroke-linejoin="round"/>
<circle cx="387.8" cy="393.4" r="4.1" fill="#000"/>
<circle cx="399.47" cy="393.4" r="4.1" fill="#000"/>
<circle cx="415.8" cy="369.49" r="4.1" fill="#000"/>
<circle cx="443.8" cy="304.14" r="4.1" fill="#000"/>
<circle cx="460.14" cy="315.89" r="4.1" fill="#000"/>
<circle cx="486.97" cy="302.14" r="4.1" fill="#000"/>
<circle cx="535.97" cy="317.88" r="4.1" fill="#000"/>
<circle cx="569.81" cy="301.75" r="4.1" fill="#000"/>
<circle cx="625.81" cy="305.33" r="4.1" fill="#000"/>
<line x1="399.47" y1="321.27" x2="399.47" y2="364.69" stroke="#000" stroke-width="1.6" />
<line x1="395.47" y1="321.27" x2="403.47" y2="321.27" stroke="#000" stroke-width="1.6" />
<line x1="399.47" y1="372.69" x2="399.47" y2="393.4" stroke="#000" stroke-width="1.6" />
<line x1="415.8" y1="290.19" x2="415.8" y2="331.02" stroke="#000" stroke-width="1.6" />
<line x1="411.8" y1="290.19" x2="419.8" y2="290.19" stroke="#000" stroke-width="1.6" />
<line x1="415.8" y1="339.02" x2="415.8" y2="379.85" stroke="#000" stroke-width="1.6" />
<line x1="411.8" y1="379.85" x2="419.8" y2="379.85" stroke="#000" stroke-width="1.6" />
<line x1="443.8" y1="321.69" x2="443.8" y2="357.53" stroke="#000" stroke-width="1.6" />
<line x1="439.8" y1="357.53" x2="447.8" y2="357.53" stroke="#000" stroke-width="1.6" />
<line x1="460.14" y1="305.13" x2="460.14" y2="324.05" stroke="#000" stroke-width="1.6" />
<line x1="456.14" y1="305.13" x2="464.14" y2="305.13" stroke="#000" stroke-width="1.6" />
<line x1="460.14" y1="332.05" x2="460.14" y2="350.96" stroke="#000" stroke-width="1.6" />
<line x1="456.14" y1="350.96" x2="464.14" y2="350.96" stroke="#000" stroke-width="1.6" />
<line x1="486.97" y1="303.94" x2="486.97" y2="317.27" stroke="#000" stroke-width="1.6" />
<line x1="482.97" y1="303.94" x2="490.97" y2="303.94" stroke="#000" stroke-width="1.6" />
<line x1="486.97" y1="325.27" x2="486.97" y2="338.61" stroke="#000" stroke-width="1.6" />
<line x1="482.97" y1="338.61" x2="490.97" y2="338.61" stroke="#000" stroke-width="1.6" />
<polyline points="387.8,393.4 399.47,368.69 415.8,335.02 443.8,317.69 460.14,328.05 486.97,321.27 535.97,381.84 569.81,393.4 625.81,393.4" fill="none" stroke="#000" stroke-width="1.5" stroke-linejoin="round"/>
<rect x="383.8" y="389.4" width="8" height="8" fill="#000" stroke="#000" stroke-width="1.5"/>
<rect x="395.47" y="364.69" width="8" height="8" fill="none" stroke="#000" stroke-width="1.5"/>
<rect x="411.8" y="331.02" width="8" height="8" fill="none" stroke="#000" stroke-width="1.5"/>
<rect x="439.8" y="313.69" width="8" height="8" fill="none" stroke="#000" stroke-width="1.5"/>
<rect x="456.14" y="324.05" width="8" height="8" fill="none" stroke="#000" stroke-width="1.5"/>
<rect x="482.97" y="317.27" width="8" height="8" fill="none" stroke="#000" stroke-width="1.5"/>
<rect x="531.97" y="377.84" width="8" height="8" fill="none" stroke="#000" stroke-width="1.5"/>
<rect x="565.81" y="389.4" width="8" height="8" fill="none" stroke="#000" stroke-width="1.5"/>
<rect x="621.81" y="389.4" width="8" height="8" fill="none" stroke="#000" stroke-width="1.5"/>
<polyline points="387.8,393.4 399.47,393.4 415.8,393.4 443.8,393.4 460.14,393.4 486.97,393.4 569.81,393.4 625.81,393.4" fill="none" stroke="#000" stroke-width="1.5" stroke-linejoin="round"/>
<path d="M387.8 389.5 L391.8 397.7 L383.8 397.7 Z" fill="none" stroke="#000" stroke-width="1.6" stroke-linejoin="miter"/>
<path d="M399.47 389.5 L403.47 397.7 L395.47 397.7 Z" fill="none" stroke="#000" stroke-width="1.6" stroke-linejoin="miter"/>
<path d="M415.8 389.5 L419.8 397.7 L411.8 397.7 Z" fill="none" stroke="#000" stroke-width="1.6" stroke-linejoin="miter"/>
<path d="M443.8 389.5 L447.8 397.7 L439.8 397.7 Z" fill="none" stroke="#000" stroke-width="1.6" stroke-linejoin="miter"/>
<path d="M460.14 389.5 L464.14 397.7 L456.14 397.7 Z" fill="none" stroke="#000" stroke-width="1.6" stroke-linejoin="miter"/>
<path d="M486.97 389.5 L490.97 397.7 L482.97 397.7 Z" fill="none" stroke="#000" stroke-width="1.6" stroke-linejoin="miter"/>
<path d="M569.81 389.5 L573.81 397.7 L565.81 397.7 Z" fill="none" stroke="#000" stroke-width="1.6" stroke-linejoin="miter"/>
<path d="M625.81 389.5 L629.81 397.7 L621.81 397.7 Z" fill="none" stroke="#000" stroke-width="1.6" stroke-linejoin="miter"/>
</g>
<g id="panelE">
<text transform="translate(167.6 454.8)" font-size="15.2" font-weight="bold" text-anchor="start" stroke="#000" stroke-width="0.3" >E</text>
<line x1="224" y1="458.95" x2="224" y2="620.65" stroke="#000" stroke-width="1.7" />
<line x1="223.15" y1="619.8" x2="462.93" y2="619.8" stroke="#000" stroke-width="1.7" />
<line x1="219.5" y1="619.8" x2="224" y2="619.8" stroke="#000" stroke-width="1.7" />
<text transform="translate(216.9 623.14)" font-size="11.7" font-weight="bold" text-anchor="end" stroke="#000" stroke-width="0.3" >0.0001</text>
<line x1="219.5" y1="579.8" x2="224" y2="579.8" stroke="#000" stroke-width="1.7" />
<text transform="translate(216.9 583.14)" font-size="11.7" font-weight="bold" text-anchor="end" stroke="#000" stroke-width="0.3" >0.001</text>
<line x1="219.5" y1="539.8" x2="224" y2="539.8" stroke="#000" stroke-width="1.7" />
<text transform="translate(216.9 543.14)" font-size="11.7" font-weight="bold" text-anchor="end" stroke="#000" stroke-width="0.3" >0.01</text>
<line x1="219.5" y1="499.8" x2="224" y2="499.8" stroke="#000" stroke-width="1.7" />
<text transform="translate(216.9 503.14)" font-size="11.7" font-weight="bold" text-anchor="end" stroke="#000" stroke-width="0.3" >0.1</text>
<line x1="219.5" y1="459.8" x2="224" y2="459.8" stroke="#000" stroke-width="1.7" />
<text transform="translate(216.9 463.14)" font-size="11.7" font-weight="bold" text-anchor="end" stroke="#000" stroke-width="0.3" >1</text>
<line x1="221.8" y1="607.76" x2="224" y2="607.76" stroke="#000" stroke-width="0.9" />
<line x1="221.8" y1="600.72" x2="224" y2="600.72" stroke="#000" stroke-width="0.9" />
<line x1="221.8" y1="595.72" x2="224" y2="595.72" stroke="#000" stroke-width="0.9" />
<line x1="221.8" y1="591.84" x2="224" y2="591.84" stroke="#000" stroke-width="0.9" />
<line x1="221.8" y1="588.67" x2="224" y2="588.67" stroke="#000" stroke-width="0.9" />
<line x1="221.8" y1="586" x2="224" y2="586" stroke="#000" stroke-width="0.9" />
<line x1="221.8" y1="583.68" x2="224" y2="583.68" stroke="#000" stroke-width="0.9" />
<line x1="221.8" y1="581.63" x2="224" y2="581.63" stroke="#000" stroke-width="0.9" />
<line x1="221.8" y1="567.76" x2="224" y2="567.76" stroke="#000" stroke-width="0.9" />
<line x1="221.8" y1="560.72" x2="224" y2="560.72" stroke="#000" stroke-width="0.9" />
<line x1="221.8" y1="555.72" x2="224" y2="555.72" stroke="#000" stroke-width="0.9" />
<line x1="221.8" y1="551.84" x2="224" y2="551.84" stroke="#000" stroke-width="0.9" />
<line x1="221.8" y1="548.67" x2="224" y2="548.67" stroke="#000" stroke-width="0.9" />
<line x1="221.8" y1="546" x2="224" y2="546" stroke="#000" stroke-width="0.9" />
<line x1="221.8" y1="543.68" x2="224" y2="543.68" stroke="#000" stroke-width="0.9" />
<line x1="221.8" y1="541.63" x2="224" y2="541.63" stroke="#000" stroke-width="0.9" />
<line x1="221.8" y1="527.76" x2="224" y2="527.76" stroke="#000" stroke-width="0.9" />
<line x1="221.8" y1="520.72" x2="224" y2="520.72" stroke="#000" stroke-width="0.9" />
<line x1="221.8" y1="515.72" x2="224" y2="515.72" stroke="#000" stroke-width="0.9" />
<line x1="221.8" y1="511.84" x2="224" y2="511.84" stroke="#000" stroke-width="0.9" />
<line x1="221.8" y1="508.67" x2="224" y2="508.67" stroke="#000" stroke-width="0.9" />
<line x1="221.8" y1="506" x2="224" y2="506" stroke="#000" stroke-width="0.9" />
<line x1="221.8" y1="503.68" x2="224" y2="503.68" stroke="#000" stroke-width="0.9" />
<line x1="221.8" y1="501.63" x2="224" y2="501.63" stroke="#000" stroke-width="0.9" />
<line x1="221.8" y1="487.76" x2="224" y2="487.76" stroke="#000" stroke-width="0.9" />
<line x1="221.8" y1="480.72" x2="224" y2="480.72" stroke="#000" stroke-width="0.9" />
<line x1="221.8" y1="475.72" x2="224" y2="475.72" stroke="#000" stroke-width="0.9" />
<line x1="221.8" y1="471.84" x2="224" y2="471.84" stroke="#000" stroke-width="0.9" />
<line x1="221.8" y1="468.67" x2="224" y2="468.67" stroke="#000" stroke-width="0.9" />
<line x1="221.8" y1="466" x2="224" y2="466" stroke="#000" stroke-width="0.9" />
<line x1="221.8" y1="463.68" x2="224" y2="463.68" stroke="#000" stroke-width="0.9" />
<line x1="221.8" y1="461.63" x2="224" y2="461.63" stroke="#000" stroke-width="0.9" />
<line x1="224" y1="619.8" x2="224" y2="624.3" stroke="#000" stroke-width="1.7" />
<text transform="translate(224 637.6)" font-size="11.7" font-weight="bold" text-anchor="middle" stroke="#000" stroke-width="0.3" >0</text>
<line x1="282.27" y1="619.8" x2="282.27" y2="624.3" stroke="#000" stroke-width="1.7" />
<text transform="translate(282.27 637.6)" font-size="11.7" font-weight="bold" text-anchor="middle" stroke="#000" stroke-width="0.3" >50</text>
<line x1="340.55" y1="619.8" x2="340.55" y2="624.3" stroke="#000" stroke-width="1.7" />
<text transform="translate(340.55 637.6)" font-size="11.7" font-weight="bold" text-anchor="middle" stroke="#000" stroke-width="0.3" >100</text>
<line x1="398.82" y1="619.8" x2="398.82" y2="624.3" stroke="#000" stroke-width="1.7" />
<text transform="translate(398.82 637.6)" font-size="11.7" font-weight="bold" text-anchor="middle" stroke="#000" stroke-width="0.3" >150</text>
<line x1="457.1" y1="619.8" x2="457.1" y2="624.3" stroke="#000" stroke-width="1.7" />
<text transform="translate(457.1 637.6)" font-size="11.7" font-weight="bold" text-anchor="middle" stroke="#000" stroke-width="0.3" >200</text>
<text transform="translate(343.46 653.5)" font-size="13.2" font-weight="bold" text-anchor="middle" stroke="#000" stroke-width="0.3" >time (days)</text>
<text transform="translate(179.7 539.4) rotate(-90)" font-size="16" font-weight="normal" stroke="#000" stroke-width="0.5" text-anchor="middle">OD<tspan font-size="10.8" dy="3.1">600</tspan></text>
<line x1="224" y1="542.62" x2="224" y2="557.07" stroke="#000" stroke-width="1.6" />
<line x1="220" y1="542.62" x2="228" y2="542.62" stroke="#000" stroke-width="1.6" />
<line x1="224" y1="557.07" x2="224" y2="570.58" stroke="#000" stroke-width="1.6" />
<line x1="220" y1="570.58" x2="228" y2="570.58" stroke="#000" stroke-width="1.6" />
<line x1="235.66" y1="539.29" x2="235.66" y2="545.51" stroke="#000" stroke-width="1.6" />
<line x1="231.66" y1="539.29" x2="239.66" y2="539.29" stroke="#000" stroke-width="1.6" />
<line x1="235.66" y1="545.51" x2="235.66" y2="552.19" stroke="#000" stroke-width="1.6" />
<line x1="231.66" y1="552.19" x2="239.66" y2="552.19" stroke="#000" stroke-width="1.6" />
<line x1="251.97" y1="522.55" x2="251.97" y2="532.19" stroke="#000" stroke-width="1.6" />
<line x1="247.97" y1="522.55" x2="255.97" y2="522.55" stroke="#000" stroke-width="1.6" />
<line x1="251.97" y1="532.19" x2="251.97" y2="540.69" stroke="#000" stroke-width="1.6" />
<line x1="247.97" y1="540.69" x2="255.97" y2="540.69" stroke="#000" stroke-width="1.6" />
<line x1="296.26" y1="519.22" x2="296.26" y2="527.08" stroke="#000" stroke-width="1.6" />
<line x1="292.26" y1="527.08" x2="300.26" y2="527.08" stroke="#000" stroke-width="1.6" />
<line x1="381.34" y1="497" x2="381.34" y2="502.12" stroke="#000" stroke-width="1.6" />
<line x1="377.34" y1="497" x2="385.34" y2="497" stroke="#000" stroke-width="1.6" />
<line x1="381.34" y1="502.12" x2="381.34" y2="511.84" stroke="#000" stroke-width="1.6" />
<line x1="377.34" y1="511.84" x2="385.34" y2="511.84" stroke="#000" stroke-width="1.6" />
<polyline points="224,557.07 235.66,545.51 251.97,532.19 279.94,515.5 296.26,519.22 381.34,502.12" fill="none" stroke="#000" stroke-width="1.5" stroke-linejoin="round"/>
<circle cx="224" cy="557.07" r="4.1" fill="#000"/>
<circle cx="235.66" cy="545.51" r="4.1" fill="#000"/>
<circle cx="251.97" cy="532.19" r="4.1" fill="#000"/>
<circle cx="279.94" cy="515.5" r="4.1" fill="#000"/>
<circle cx="296.26" cy="519.22" r="4.1" fill="#000"/>
<circle cx="381.34" cy="502.12" r="4.1" fill="#000"/>
<line x1="224" y1="534.98" x2="224" y2="538.62" stroke="#000" stroke-width="1.6" />
<line x1="220" y1="534.98" x2="228" y2="534.98" stroke="#000" stroke-width="1.6" />
<line x1="224" y1="546.62" x2="224" y2="550.19" stroke="#000" stroke-width="1.6" />
<line x1="220" y1="550.19" x2="228" y2="550.19" stroke="#000" stroke-width="1.6" />
<line x1="235.66" y1="516.07" x2="235.66" y2="526.38" stroke="#000" stroke-width="1.6" />
<line x1="231.66" y1="516.07" x2="239.66" y2="516.07" stroke="#000" stroke-width="1.6" />
<line x1="235.66" y1="534.38" x2="235.66" y2="538.95" stroke="#000" stroke-width="1.6" />
<line x1="231.66" y1="538.95" x2="239.66" y2="538.95" stroke="#000" stroke-width="1.6" />
<line x1="251.97" y1="506" x2="251.97" y2="508.92" stroke="#000" stroke-width="1.6" />
<line x1="247.97" y1="506" x2="255.97" y2="506" stroke="#000" stroke-width="1.6" />
<line x1="251.97" y1="516.92" x2="251.97" y2="524.59" stroke="#000" stroke-width="1.6" />
<line x1="247.97" y1="524.59" x2="255.97" y2="524.59" stroke="#000" stroke-width="1.6" />
<polyline points="224,542.62 235.66,530.38 251.97,512.92 279.94,517.55 296.26,517.55 381.34,495.24" fill="none" stroke="#000" stroke-width="1.5" stroke-linejoin="round"/>
<rect x="220" y="538.62" width="8" height="8" fill="none" stroke="#000" stroke-width="1.5"/>
<rect x="231.66" y="526.38" width="8" height="8" fill="none" stroke="#000" stroke-width="1.5"/>
<rect x="247.97" y="508.92" width="8" height="8" fill="none" stroke="#000" stroke-width="1.5"/>
<rect x="275.94" y="513.55" width="8" height="8" fill="none" stroke="#000" stroke-width="1.5"/>
<rect x="292.26" y="513.55" width="8" height="8" fill="none" stroke="#000" stroke-width="1.5"/>
<rect x="377.34" y="491.24" width="8" height="8" fill="none" stroke="#000" stroke-width="1.5"/>
<line x1="224" y1="548.1" x2="224" y2="549.76" stroke="#000" stroke-width="1.6" />
<line x1="220" y1="548.1" x2="228" y2="548.1" stroke="#000" stroke-width="1.6" />
<line x1="224" y1="558.76" x2="224" y2="581.63" stroke="#000" stroke-width="1.6" />
<line x1="220" y1="581.63" x2="228" y2="581.63" stroke="#000" stroke-width="1.6" />
<line x1="235.66" y1="552.41" x2="235.66" y2="554.68" stroke="#000" stroke-width="1.6" />
<line x1="231.66" y1="552.41" x2="239.66" y2="552.41" stroke="#000" stroke-width="1.6" />
<line x1="235.66" y1="563.68" x2="235.66" y2="571.96" stroke="#000" stroke-width="1.6" />
<line x1="231.66" y1="571.96" x2="239.66" y2="571.96" stroke="#000" stroke-width="1.6" />
<line x1="251.97" y1="519.06" x2="251.97" y2="537.52" stroke="#000" stroke-width="1.6" />
<line x1="247.97" y1="519.06" x2="255.97" y2="519.06" stroke="#000" stroke-width="1.6" />
<line x1="251.97" y1="546.52" x2="251.97" y2="565.33" stroke="#000" stroke-width="1.6" />
<line x1="247.97" y1="565.33" x2="255.97" y2="565.33" stroke="#000" stroke-width="1.6" />
<line x1="279.94" y1="548.97" x2="279.94" y2="551.02" stroke="#000" stroke-width="1.6" />
<line x1="275.94" y1="548.97" x2="283.94" y2="548.97" stroke="#000" stroke-width="1.6" />
<line x1="279.94" y1="560.02" x2="279.94" y2="566.1" stroke="#000" stroke-width="1.6" />
<line x1="275.94" y1="566.1" x2="283.94" y2="566.1" stroke="#000" stroke-width="1.6" />
<line x1="296.26" y1="548.67" x2="296.26" y2="552.37" stroke="#000" stroke-width="1.6" />
<line x1="292.26" y1="548.67" x2="300.26" y2="548.67" stroke="#000" stroke-width="1.6" />
<line x1="296.26" y1="561.37" x2="296.26" y2="572.19" stroke="#000" stroke-width="1.6" />
<line x1="292.26" y1="572.19" x2="300.26" y2="572.19" stroke="#000" stroke-width="1.6" />
<polyline points="224,554.46 235.66,559.38 251.97,542.22 279.94,555.72 296.26,557.07 381.34,556.16" fill="none" stroke="#000" stroke-width="1.5" stroke-linejoin="round"/>
<path d="M224 550.56 L228 558.76 L220 558.76 Z" fill="none" stroke="#000" stroke-width="1.6" stroke-linejoin="miter"/>
<path d="M235.66 555.48 L239.66 563.68 L231.66 563.68 Z" fill="none" stroke="#000" stroke-width="1.6" stroke-linejoin="miter"/>
<path d="M251.97 538.32 L255.97 546.52 L247.97 546.52 Z" fill="none" stroke="#000" stroke-width="1.6" stroke-linejoin="miter"/>
<path d="M279.94 551.82 L283.94 560.02 L275.94 560.02 Z" fill="none" stroke="#000" stroke-width="1.6" stroke-linejoin="miter"/>
<path d="M296.26 553.17 L300.26 561.37 L292.26 561.37 Z" fill="none" stroke="#000" stroke-width="1.6" stroke-linejoin="miter"/>
<path d="M381.34 552.26 L385.34 560.46 L377.34 560.46 Z" fill="none" stroke="#000" stroke-width="1.6" stroke-linejoin="miter"/>
</g>
<g id="legend">
<line x1="122" y1="676" x2="141" y2="676" stroke="#000" stroke-width="1.5" />
<circle cx="131.5" cy="676" r="4.1" fill="#000"/>
<text transform="translate(151 681.3)" font-size="14.25" font-weight="normal" text-anchor="start" stroke="#000" stroke-width="0.15" >lactate + isoprene</text>
<line x1="297.5" y1="676" x2="316" y2="676" stroke="#000" stroke-width="1.5" />
<rect x="302.8" y="672" width="8" height="8" fill="none" stroke="#000" stroke-width="1.5"/>
<text transform="translate(327 681.3)" font-size="13.8" font-weight="normal" text-anchor="start" stroke="#000" stroke-width="0.15" >lactate</text>
<line x1="415.3" y1="677.3" x2="434.3" y2="677.3" stroke="#000" stroke-width="1.5" />
<path d="M424.8 673.4 L428.8 681.6 L420.8 681.6 Z" fill="none" stroke="#000" stroke-width="1.6" stroke-linejoin="miter"/>
<text transform="translate(444.6 681.9)" font-size="14.1" font-weight="normal" text-anchor="start" stroke="#000" stroke-width="0.15" >isoprene</text>
</g>
</svg></body></html>
